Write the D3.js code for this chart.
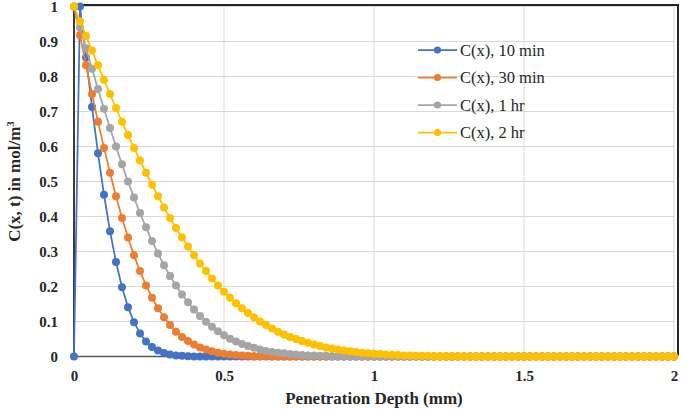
<!DOCTYPE html>
<html>
<head>
<meta charset="utf-8">
<script src="https://cdn.jsdelivr.net/npm/d3@7"></script>
<style>
  body { margin: 0; background: #fff; }
  svg text { font-family: "Times New Roman", "Liberation Serif", "DejaVu Serif", serif !important; }
</style>
</head>
<body>
<div class="chart"></div>
<script>
// penetration depth grid (mm), sampled every 0.02 mm
var depth = d3.range(0, 101).map(function (i) { return +(i * 0.02).toFixed(2); });

var c10min = [0, 1, 0.854, 0.713, 0.581, 0.462, 0.358, 0.270, 0.198, 0.141,
  0.098, 0.066, 0.043, 0.027, 0.017, 0.010, 0.006, 0.003, 0.002, 0.001,
  0, 0, 0, 0, 0, 0, 0, 0, 0, 0,
  0, 0, 0, 0, 0, 0, 0, 0, 0, 0,
  0, 0, 0, 0, 0, 0, 0, 0, 0, 0,
  0, 0, 0, 0, 0, 0, 0, 0, 0, 0,
  0, 0, 0, 0, 0, 0, 0, 0, 0, 0,
  0, 0, 0, 0, 0, 0, 0, 0, 0, 0,
  0, 0, 0, 0, 0, 0, 0, 0, 0, 0,
  0, 0, 0, 0, 0, 0, 0, 0, 0, 0, 0];

var c30min = [1, 0.918, 0.832, 0.750, 0.671, 0.596, 0.525, 0.458, 0.396, 0.340,
  0.289, 0.244, 0.203, 0.168, 0.138, 0.112, 0.090, 0.071, 0.056, 0.044,
  0.034, 0.026, 0.020, 0.015, 0.011, 0.008, 0.006, 0.004, 0.003, 0.002,
  0.001, 0.001, 0.001, 0, 0, 0, 0, 0, 0, 0,
  0, 0, 0, 0, 0, 0, 0, 0, 0, 0,
  0, 0, 0, 0, 0, 0, 0, 0, 0, 0,
  0, 0, 0, 0, 0, 0, 0, 0, 0, 0,
  0, 0, 0, 0, 0, 0, 0, 0, 0, 0,
  0, 0, 0, 0, 0, 0, 0, 0, 0, 0,
  0, 0, 0, 0, 0, 0, 0, 0, 0, 0, 0];

var c1hr = [1, 0.940, 0.881, 0.822, 0.764, 0.708, 0.653, 0.600, 0.549, 0.500,
  0.454, 0.410, 0.369, 0.330, 0.294, 0.261, 0.230, 0.203, 0.177, 0.155,
  0.134, 0.116, 0.099, 0.085, 0.072, 0.061, 0.051, 0.043, 0.036, 0.030,
  0.025, 0.020, 0.016, 0.013, 0.011, 0.009, 0.007, 0.006, 0.004, 0.003,
  0.003, 0.002, 0.002, 0.001, 0.001, 0.001, 0, 0, 0, 0,
  0, 0, 0, 0, 0, 0, 0, 0, 0, 0,
  0, 0, 0, 0, 0, 0, 0, 0, 0, 0,
  0, 0, 0, 0, 0, 0, 0, 0, 0, 0,
  0, 0, 0, 0, 0, 0, 0, 0, 0, 0,
  0, 0, 0, 0, 0, 0, 0, 0, 0, 0, 0];

var c2hr = [1, 0.958, 0.916, 0.874, 0.832, 0.791, 0.750, 0.710, 0.671, 0.633,
  0.596, 0.560, 0.525, 0.491, 0.458, 0.426, 0.396, 0.367, 0.340, 0.314,
  0.289, 0.266, 0.244, 0.223, 0.203, 0.185, 0.168, 0.152, 0.138, 0.124,
  0.112, 0.100, 0.090, 0.080, 0.071, 0.063, 0.056, 0.050, 0.044, 0.039,
  0.034, 0.030, 0.026, 0.023, 0.020, 0.017, 0.015, 0.013, 0.011, 0.009,
  0.008, 0.007, 0.006, 0.005, 0.004, 0.003, 0.003, 0.002, 0.002, 0.002,
  0.001, 0.001, 0.001, 0.001, 0.001, 0, 0, 0, 0, 0,
  0, 0, 0, 0, 0, 0, 0, 0, 0, 0,
  0, 0, 0, 0, 0, 0, 0, 0, 0, 0,
  0, 0, 0, 0, 0, 0, 0, 0, 0, 0, 0];

var seriesNames = ["C(x), 10 min", "C(x), 30 min", "C(x), 1 hr", "C(x), 2 hr"];
var seriesColors = ["#4472c4", "#ed7d31", "#a5a5a5", "#ffc000"];
var xTicks = [0, 0.5, 1, 1.5, 2];
var yTicks = [0, 0.1, 0.2, 0.3, 0.4, 0.5, 0.6, 0.7, 0.8, 0.9, 1];

var FONT = '"Times New Roman", "Liberation Serif", "DejaVu Serif", serif';

var series = [c10min, c30min, c1hr, c2hr].map(function (vals, i) {
  return {
    name: seriesNames[i],
    color: seriesColors[i],
    points: vals.map(function (v, j) { return { x: depth[j], y: v }; })
  };
});

var width = 685, height = 409;
var margin = { left: 74, right: 7, top: 6, bottom: 53 };

var svg = d3.select('.chart')
  .append("svg")
  .attr("width", width)
  .attr("height", height)
  .attr("font-family", FONT);

var x = d3.scaleLinear()
  .domain([0, 2])
  .range([margin.left, width - margin.right - 4]);

var y = d3.scaleLinear()
  .domain([0, 1])
  .range([height - margin.bottom + 0.5, margin.top + 0.5]);

// grid
svg.append("g")
  .selectAll("line.h")
  .data(yTicks)
  .enter()
  .append("line")
  .attr("x1", x(0))
  .attr("x2", x(2))
  .attr("y1", function (d) { return y(d); })
  .attr("y2", function (d) { return y(d); })
  .attr("stroke", "#d9d9d9")
  .attr("stroke-width", 1);

svg.append("g")
  .selectAll("line.v")
  .data(xTicks)
  .enter()
  .append("line")
  .attr("x1", function (d) { return x(d); })
  .attr("x2", function (d) { return x(d); })
  .attr("y1", y(0))
  .attr("y2", y(1))
  .attr("stroke", "#d9d9d9")
  .attr("stroke-width", 1);

// frame: top and right dark, bottom grey, left black
svg.append("line")
  .attr("x1", x(0)).attr("x2", x(2) + 4)
  .attr("y1", y(1) - 1.5).attr("y2", y(1) - 1.5)
  .attr("stroke", "#262626").attr("stroke-width", 2);
svg.append("line")
  .attr("x1", x(2) + 4).attr("x2", x(2) + 4)
  .attr("y1", y(1) - 2.5).attr("y2", y(0) - 1)
  .attr("stroke", "#262626").attr("stroke-width", 2);
svg.append("line")
  .attr("x1", x(0)).attr("x2", x(2))
  .attr("y1", y(0)).attr("y2", y(0))
  .attr("stroke", "#595959").attr("stroke-width", 1.5);
svg.append("line")
  .attr("x1", x(0)).attr("x2", x(0))
  .attr("y1", y(0)).attr("y2", y(1) - 2)
  .attr("stroke", "#000").attr("stroke-width", 1.5);

// axes labels
var xAxis = d3.axisBottom(x).tickValues(xTicks).tickSize(0).tickPadding(14)
  .tickFormat(function (d) { return String(d); });
var gx = svg.append("g")
  .attr("transform", "translate(0," + y(0) + ")")
  .call(xAxis)
  .attr("font-family", FONT);
gx.select(".domain").remove();
gx.selectAll("text")
  .style("font-family", FONT)
  .style("font-size", "15px")
  .style("font-weight", "bold")
  .attr("fill", "#262626");

var yAxis = d3.axisLeft(y).tickValues(yTicks).tickSize(0).tickPadding(16)
  .tickFormat(function (d) { return String(d); });
var gy = svg.append("g")
  .attr("transform", "translate(" + x(0) + ",0)")
  .call(yAxis)
  .attr("font-family", FONT);
gy.select(".domain").remove();
gy.selectAll("text")
  .style("font-family", FONT)
  .style("font-size", "15px")
  .style("font-weight", "bold")
  .attr("fill", "#262626");

svg.append("text")
  .attr("x", x(1))
  .attr("y", 404)
  .attr("text-anchor", "middle")
  .style("font-family", FONT)
  .style("font-size", "17px")
  .style("font-weight", "bold")
  .attr("fill", "#262626")
  .text("Penetration Depth (mm)");

var ylab = svg.append("text")
  .attr("transform", "translate(20," + y(0.5) + ") rotate(-90)")
  .attr("text-anchor", "middle")
  .style("font-family", FONT)
  .style("font-size", "17px")
  .style("font-weight", "bold")
  .attr("fill", "#262626");
ylab.append("tspan").text("C(x, t) in mol/m");
ylab.append("tspan").attr("dy", -6).style("font-size", "11px").text("3");

// series
var line = d3.line()
  .x(function (d) { return x(d.x); })
  .y(function (d) { return y(d.y); });

var sg = svg.append("g")
  .selectAll("g.series")
  .data(series)
  .enter()
  .append("g");

sg.append("path")
  .attr("d", function (d) { return line(d.points); })
  .attr("fill", "none")
  .attr("stroke", function (d) { return d.color; })
  .attr("stroke-width", 1.75);

sg.selectAll("circle")
  .data(function (d) { return d.points.map(function (p) { return { p: p, color: d.color }; }); })
  .enter()
  .append("circle")
  .attr("cx", function (d) { return x(d.p.x); })
  .attr("cy", function (d) { return y(d.p.y); })
  .attr("r", 4)
  .attr("fill", function (d) { return d.color; });

// legend
var lg = svg.append("g")
  .selectAll("g.leg")
  .data(series)
  .enter()
  .append("g")
  .attr("transform", function (d, i) { return "translate(418," + (50 + i * 27.5) + ")"; });

lg.append("line")
  .attr("x1", 0).attr("x2", 39)
  .attr("stroke", function (d) { return d.color; })
  .attr("stroke-width", 1.75);
lg.append("circle")
  .attr("cx", 19.5).attr("r", 3.6)
  .attr("fill", function (d) { return d.color; });
lg.append("text")
  .attr("x", 42)
  .attr("y", 5.5)
  .style("font-family", FONT)
  .style("font-size", "16.5px")
  .attr("fill", "#262626")
  .text(function (d) { return d.name; });
</script>
</body>
</html>
